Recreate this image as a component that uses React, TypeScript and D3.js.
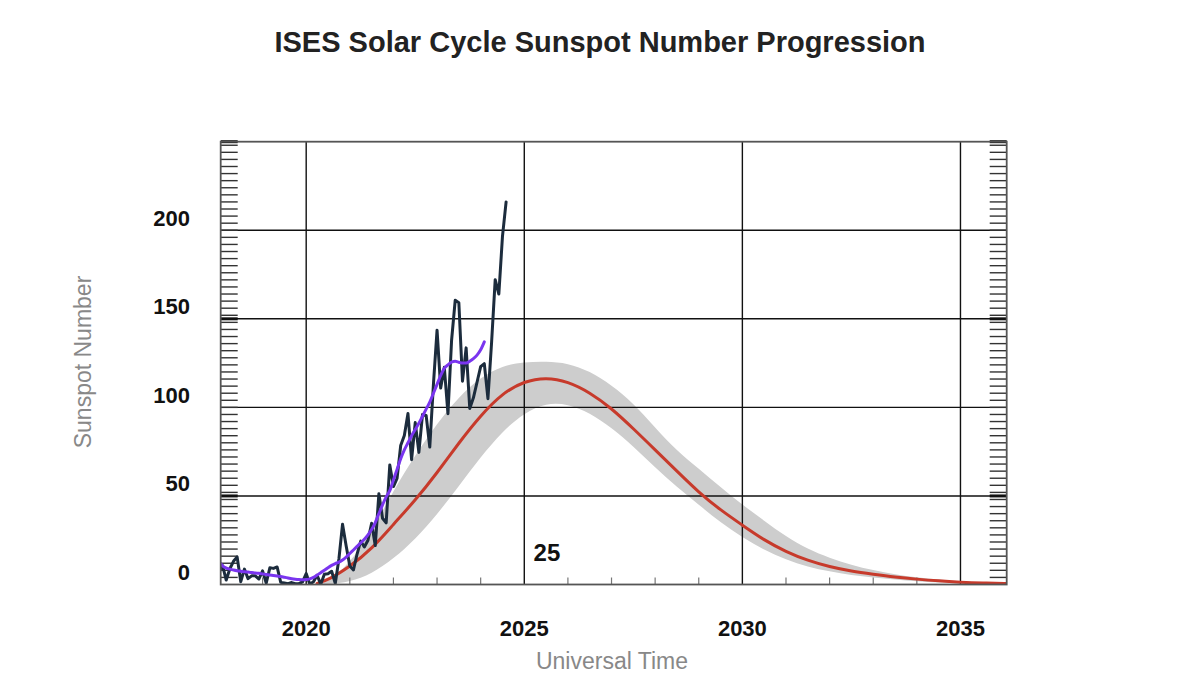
import * as d3 from 'd3';

// monthly sunspot number, Jan 2018 .. Aug 2024
const monthlyObserved = [
  6.8, 10.7, 2.5, 8.9, 13.1, 15.6, 1.6, 8.7, 3.3, 4.9, 4.9, 3.1,
  7.7, 0.8, 9.4, 9.1, 9.9, 1.2, 0.9, 0.5, 1.1, 0.4, 0.5, 1.5,
  6.2, 0.2, 1.5, 5.2, 0.2, 5.8, 6.1, 7.5, 0.6, 14.4, 34.0, 21.8,
  10.4, 8.2, 17.2, 24.5, 21.2, 25.0, 34.6, 22.0, 51.3, 37.4, 34.8, 67.5,
  55.3, 59.9, 78.5, 84.1, 96.5, 70.5, 91.4, 74.6, 96.0, 95.5, 77.6, 112.8,
  143.6, 110.9, 122.6, 96.4, 137.9, 160.5, 159.1, 114.8, 133.6, 99.4, 105.4, 114.2,
  123.0, 124.7, 104.9, 136.5, 172.1, 164.0, 196.5, 216.0,
];

// smoothed monthly values, Jan 2018 .. Feb 2024
const smoothedObserved = [
  13, 10.5, 9.3, 8.7, 8.2, 7.8, 7.5, 7.2, 7, 6.8, 6.5, 6.3,
  6, 5.7, 5.4, 5.1, 4.8, 4.5, 4.1, 3.7, 3.3, 3, 2.8, 2.7,
  2.8, 3.2, 4, 5.3, 6.7, 8, 9.5, 10.8, 11.8, 12.6, 13.8, 15.5,
  17.5, 19.5, 21.5, 23.5, 25.5, 28, 31, 35, 40, 45, 49.5, 53,
  59, 65, 71, 76, 80, 84, 87.5, 91, 95, 99, 103, 108,
  113, 118, 122, 124, 125.5, 126, 125.5, 125, 125, 126, 127.5, 129.5,
  132.5, 137,
];

// predicted cycle 25 and its range
const predYears = [
  2020.25, 2020.5, 2021, 2021.5, 2022, 2022.5, 2023, 2023.5, 2024, 2024.5, 2025,
  2025.5, 2026, 2026.5, 2027, 2027.5, 2028, 2028.5, 2029, 2029.5, 2030, 2030.5,
  2031, 2031.5, 2032, 2032.5, 2033, 2033.5, 2034, 2034.5, 2035, 2035.5, 2036.1,
];
const predicted = [
  0.6, 2.5, 10, 20, 34, 47.5, 63, 80, 95.5, 108, 114.8,
  117, 114.6, 108.5, 99.5, 88, 76, 64, 52, 42, 33.5, 25,
  18.5, 13.5, 10, 7.5, 5.8, 4.2, 3, 2, 1.3, 0.8, 0.5,
];
const predHigh = [
  0, 1.5, 12, 30, 53, 73, 91, 106, 117, 123.5, 125.6,
  126, 125, 120.5, 112.5, 102.5, 88.5, 75.5, 65.5, 55, 45, 36,
  27, 20, 15, 11, 8, 5.7, 4, 2.8, 1.8, 1.2, 0.8,
];
const predLow = [
  0, 0, 1.5, 6, 14.5, 25.5, 39.5, 55.5, 72, 86.5, 97,
  102.5, 102, 97, 88.5, 78, 66, 55, 45, 35, 26.5, 19.5,
  14, 10, 7.3, 5.3, 4, 2.8, 1.8, 1.1, 0.6, 0.3, 0.2,
];

const yearLabels = [2020, 2025, 2030, 2035];
const valueLabels = [0, 50, 100, 150, 200];

const W = 1200;
const H = 675;
const plot = { left: 220.7, right: 1006.7, top: 141.7, bottom: 584.5 };
const font = '"Liberation Sans", Arial, sans-serif';

export default function App() {
  const x = d3.scaleLinear().domain([2018.04, 2036.06]).range([plot.left, plot.right]);
  const y = d3.scaleLinear().domain([0, 250]).range([plot.bottom, plot.top]);

  const obsPts = monthlyObserved.map((v, i) => [2018 + i / 12, v] as [number, number]);
  const smoothPts = smoothedObserved.map((v, i) => [2018 + i / 12, v] as [number, number]);
  const predPts = predYears.map((yr, i) => [yr, predicted[i]] as [number, number]);

  const line = d3.line<[number, number]>().x((d) => x(d[0])).y((d) => y(d[1]));
  const smoothLine = d3
    .line<[number, number]>()
    .x((d) => x(d[0]))
    .y((d) => y(d[1]))
    .curve(d3.curveMonotoneX);
  const predLine = d3
    .line<[number, number]>()
    .x((d) => x(d[0]))
    .y((d) => y(d[1]))
    .curve(d3.curveBasis);
  const band = d3
    .area<number>()
    .x((d) => x(d))
    .y0((d, i) => y(predLow[i]))
    .y1((d, i) => y(predHigh[i]))
    .curve(d3.curveBasis);

  const minorY = d3.range(4, 250, 4);
  const thickY = [50, 150, 250];
  const minorX = d3.range(2019, 2036).filter((yr) => yr % 5 !== 0);
  const gridY = [50, 100, 150, 200];

  return (
    <svg
      width={W}
      height={H}
      style={{ position: 'absolute', left: 0, top: 0, background: '#fff' }}
    >
      <defs>
        <clipPath id="plot-clip">
          <rect
            x={plot.left}
            y={plot.top}
            width={plot.right - plot.left}
            height={plot.bottom - plot.top}
          />
        </clipPath>
      </defs>

      <text
        x={600}
        y={42}
        textAnchor="middle"
        dominantBaseline="central"
        fontFamily={font}
        fontWeight="bold"
        fontSize={29}
        fill="#222"
      >
        ISES Solar Cycle Sunspot Number Progression
      </text>

      <g clipPath="url(#plot-clip)">
        <path d={band(predYears) ?? ''} fill="#cdcdcd" />
      </g>

      {/* grid */}
      {gridY.map((v) => (
        <line
          key={'gy' + v}
          x1={plot.left}
          x2={plot.right}
          y1={y(v)}
          y2={y(v)}
          stroke="#111"
          strokeWidth={1.4}
        />
      ))}
      {yearLabels.map((yr) => (
        <line
          key={'gx' + yr}
          x1={x(yr)}
          x2={x(yr)}
          y1={plot.top}
          y2={plot.bottom}
          stroke="#111"
          strokeWidth={1.4}
        />
      ))}

      {/* minor ticks */}
      {minorY.map((v) => (
        <g key={'my' + v}>
          <line x1={plot.left} x2={plot.left + 17} y1={y(v)} y2={y(v)} stroke="#333" strokeWidth={1.4} />
          <line x1={plot.right - 17} x2={plot.right} y1={y(v)} y2={y(v)} stroke="#333" strokeWidth={1.4} />
        </g>
      ))}
      {thickY.map((v) => (
        <g key={'ty' + v}>
          <line x1={plot.left} x2={plot.left + 17} y1={y(v)} y2={y(v)} stroke="#111" strokeWidth={3} />
          <line x1={plot.right - 17} x2={plot.right} y1={y(v)} y2={y(v)} stroke="#111" strokeWidth={3} />
        </g>
      ))}
      {minorX.map((yr) => (
        <line
          key={'mx' + yr}
          x1={x(yr)}
          x2={x(yr)}
          y1={plot.bottom}
          y2={plot.bottom - 7}
          stroke="#777"
          strokeWidth={1.2}
        />
      ))}

      <g clipPath="url(#plot-clip)" fill="none" strokeLinejoin="round" strokeLinecap="round">
        <path d={predLine(predPts) ?? ''} stroke="#c73a2b" strokeWidth={3} />
        <path d={line(obsPts) ?? ''} stroke="#1c2c3d" strokeWidth={3} />
        <path d={smoothLine(smoothPts) ?? ''} stroke="#7a35ef" strokeWidth={3} />
      </g>

      <rect
        x={plot.left}
        y={plot.top}
        width={plot.right - plot.left}
        height={plot.bottom - plot.top}
        fill="none"
        stroke="#555"
        strokeWidth={1.8}
      />

      {valueLabels.map((v) => (
        <text
          key={'yl' + v}
          x={190}
          y={y(v) - 12}
          textAnchor="end"
          dominantBaseline="central"
          fontFamily={font}
          fontWeight="bold"
          fontSize={22}
          fill="#111"
        >
          {v}
        </text>
      ))}
      {yearLabels.map((yr) => (
        <text
          key={'xl' + yr}
          x={x(yr)}
          y={628}
          textAnchor="middle"
          dominantBaseline="central"
          fontFamily={font}
          fontWeight="bold"
          fontSize={22}
          fill="#111"
        >
          {yr}
        </text>
      ))}

      <text
        x={x(2025.52)}
        y={y(18)}
        textAnchor="middle"
        dominantBaseline="central"
        fontFamily={font}
        fontWeight="bold"
        fontSize={24}
        fill="#111"
      >
        25
      </text>

      <text
        x={612}
        y={661}
        textAnchor="middle"
        dominantBaseline="central"
        fontFamily={font}
        fontSize={23}
        fill="#888"
      >
        Universal Time
      </text>
      <text
        transform="translate(83,362) rotate(-90)"
        textAnchor="middle"
        dominantBaseline="central"
        fontFamily={font}
        fontSize={23}
        fill="#888"
      >
        Sunspot Number
      </text>
    </svg>
  );
}
